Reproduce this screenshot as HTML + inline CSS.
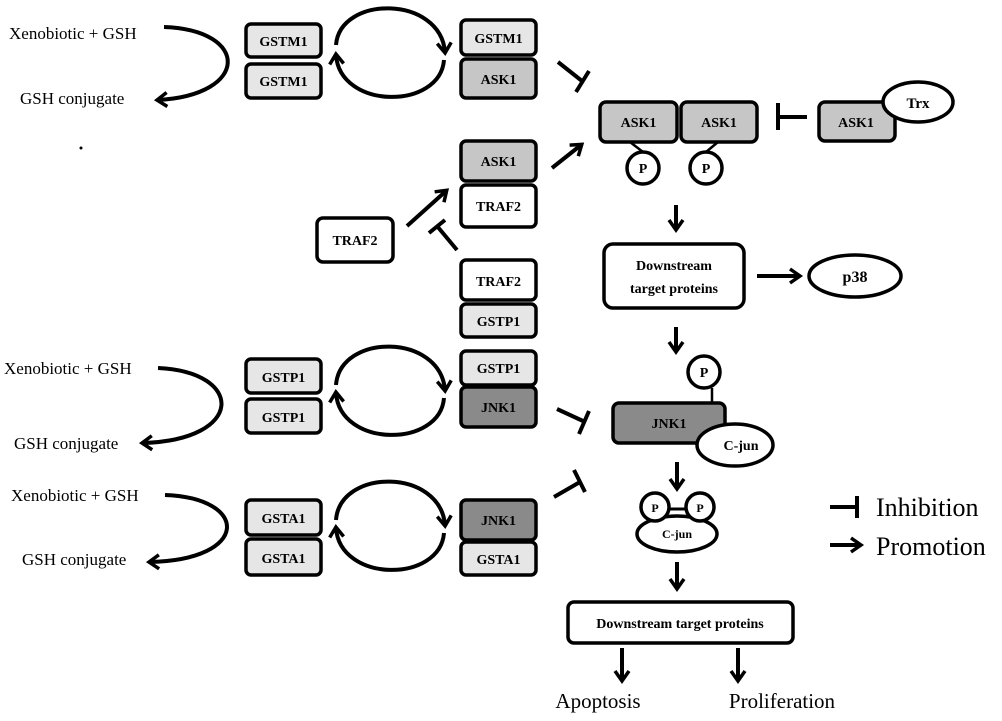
<!DOCTYPE html>
<html><head><meta charset="utf-8"><style>
html,body{margin:0;padding:0;background:#fff;}
svg{display:block;}
text{font-family:"Liberation Serif",serif;fill:#000;}
.b{stroke:#000;stroke-width:3.5;}
.l{fill:#e6e6e6}.g{fill:#c6c6c6}.d{fill:#8a8a8a}.w{fill:#fff}
.ln{stroke:#000;stroke-width:4;fill:none;}
.lab{font-size:14px;text-anchor:middle;font-weight:bold;}
.big{font-size:17px;}
</style></head><body>
<svg width="1002" height="721" viewBox="0 0 1002 721" xmlns="http://www.w3.org/2000/svg">
<defs>
<marker id="a" markerWidth="16" markerHeight="18" refX="11" refY="9" orient="auto" markerUnits="userSpaceOnUse">
<polyline points="2,2 12,9 2,16" fill="none" stroke="#000" stroke-width="3.5"/>
</marker>
</defs>

<!-- Row 1 -->
<text x="9" y="39" class="big">Xenobiotic + GSH</text>
<text x="20" y="104" class="big">GSH conjugate</text>
<path class="ln" d="M164,27 C250,30 250,95 158,100" marker-end="url(#a)"/>
<rect x="246" y="24" width="75" height="33" rx="5" class="b l"/><text x="283.5" y="46" class="lab">GSTM1</text>
<rect x="246" y="64" width="75" height="34" rx="5" class="b l"/><text x="283.5" y="86" class="lab">GSTM1</text>
<path class="ln" d="M336,45 C340,-5 440,-5 445,52" marker-end="url(#a)"/>
<path class="ln" d="M444,60 C440,110 340,110 336,55" marker-end="url(#a)"/>
<rect x="461" y="20" width="75" height="35" rx="5" class="b l"/><text x="498.5" y="43" class="lab">GSTM1</text>
<rect x="461" y="59" width="75" height="39" rx="5" class="b g"/><text x="498.5" y="84" class="lab">ASK1</text>
<line class="ln" x1="558" y1="62" x2="582" y2="81"/><line class="ln" x1="576" y1="92" x2="589" y2="71"/>
<circle cx="81" cy="148" r="1.5" fill="#000"/>

<!-- TRAF2 region -->
<rect x="461" y="141" width="75" height="40" rx="5" class="b g"/><text x="498.5" y="166" class="lab">ASK1</text>
<rect x="461" y="185" width="75" height="42" rx="5" class="b w"/><text x="498.5" y="211" class="lab">TRAF2</text>
<rect x="317" y="218" width="76" height="44" rx="6" class="b w"/><text x="355" y="245" class="lab">TRAF2</text>
<line class="ln" x1="407" y1="226" x2="446" y2="191" marker-end="url(#a)"/>
<line class="ln" x1="457" y1="250" x2="437" y2="226"/><line class="ln" x1="429" y1="233" x2="445" y2="220"/>
<rect x="461" y="260" width="75" height="40" rx="5" class="b w"/><text x="498.5" y="286" class="lab">TRAF2</text>
<rect x="461" y="304" width="75" height="33" rx="5" class="b l"/><text x="498.5" y="326" class="lab">GSTP1</text>
<line class="ln" x1="552" y1="168" x2="581" y2="145" marker-end="url(#a)"/>

<!-- ASK1 dimer -->
<line x1="630" y1="142" x2="643" y2="152" stroke="#000" stroke-width="2.5"/>
<line x1="718" y1="142" x2="706" y2="152" stroke="#000" stroke-width="2.5"/>
<rect x="600" y="102" width="77" height="40" rx="6" class="b g"/><text x="638.5" y="127" class="lab">ASK1</text>
<rect x="681" y="102" width="76" height="40" rx="6" class="b g"/><text x="719" y="127" class="lab">ASK1</text>
<circle cx="643" cy="168" r="16" class="b w"/><text x="643" y="173" class="lab" font-weight="normal">P</text>
<circle cx="706" cy="168" r="16" class="b w"/><text x="706" y="173" class="lab" font-weight="normal">P</text>
<line class="ln" x1="778" y1="103" x2="778" y2="130"/><line class="ln" x1="778" y1="117" x2="807" y2="117"/>
<rect x="819" y="102" width="76" height="39" rx="6" class="b g"/><text x="856" y="127" class="lab">ASK1</text>
<ellipse cx="918" cy="102" rx="35" ry="20" class="b w"/><text x="918" y="108" class="lab" font-weight="normal" style="font-size:15px">Trx</text>

<line class="ln" x1="676" y1="205" x2="676" y2="229" marker-end="url(#a)"/>
<rect x="604" y="244" width="140" height="64" rx="9" class="b w"/>
<text x="674" y="270" class="lab">Downstream</text><text x="674" y="293" class="lab">target proteins</text>
<line class="ln" x1="757" y1="276" x2="799" y2="276" marker-end="url(#a)"/>
<ellipse cx="855" cy="276" rx="46" ry="21" class="b w"/><text x="855" y="282" class="lab" style="font-size:16px">p38</text>

<line class="ln" x1="676" y1="327" x2="676" y2="351" marker-end="url(#a)"/>
<circle cx="704" cy="372" r="16" class="b w"/><text x="704" y="377" class="lab" font-weight="normal">P</text>
<line x1="712" y1="388" x2="712" y2="404" stroke="#000" stroke-width="2.5"/>
<rect x="613" y="403" width="112" height="40" rx="6" class="b d"/><text x="669" y="428" class="lab">JNK1</text>
<ellipse cx="735" cy="445" rx="38" ry="21" class="b w"/><text x="741" y="450" class="lab" font-weight="normal">C-jun</text>

<!-- Row 2 -->
<text x="4" y="374" class="big">Xenobiotic + GSH</text>
<text x="14" y="449" class="big">GSH conjugate</text>
<path class="ln" d="M158,368 C245,372 245,440 143,443" marker-end="url(#a)"/>
<rect x="246" y="359" width="75" height="34" rx="5" class="b l"/><text x="283.5" y="382" class="lab">GSTP1</text>
<rect x="246" y="399" width="75" height="34" rx="5" class="b l"/><text x="283.5" y="422" class="lab">GSTP1</text>
<path class="ln" d="M336,385 C340,333 440,333 445,390" marker-end="url(#a)"/>
<path class="ln" d="M444,398 C440,448 340,448 336,393" marker-end="url(#a)"/>
<rect x="461" y="351" width="75" height="34" rx="5" class="b l"/><text x="498.5" y="373" class="lab">GSTP1</text>
<rect x="461" y="387" width="75" height="40" rx="5" class="b d"/><text x="498.5" y="412" class="lab">JNK1</text>
<line class="ln" x1="557" y1="409" x2="583" y2="421"/><line class="ln" x1="579" y1="434" x2="589" y2="411"/>

<!-- Row 3 -->
<text x="11" y="501" class="big">Xenobiotic + GSH</text>
<text x="22" y="565" class="big">GSH conjugate</text>
<path class="ln" d="M165,495 C250,498 250,560 150,562" marker-end="url(#a)"/>
<rect x="246" y="500" width="75" height="35" rx="5" class="b l"/><text x="283.5" y="523" class="lab">GSTA1</text>
<rect x="246" y="539" width="75" height="36" rx="5" class="b l"/><text x="283.5" y="563" class="lab">GSTA1</text>
<path class="ln" d="M336,520 C340,468 440,468 445,525" marker-end="url(#a)"/>
<path class="ln" d="M444,533 C440,583 340,583 336,528" marker-end="url(#a)"/>
<rect x="461" y="500" width="75" height="40" rx="5" class="b d"/><text x="498.5" y="525" class="lab">JNK1</text>
<rect x="461" y="542" width="75" height="33" rx="5" class="b l"/><text x="498.5" y="564" class="lab">GSTA1</text>
<line class="ln" x1="554" y1="497" x2="580" y2="482"/><line class="ln" x1="574" y1="470" x2="585" y2="492"/>

<!-- C-jun dimer -->
<line class="ln" x1="677" y1="462" x2="677" y2="488" marker-end="url(#a)"/>
<ellipse cx="677" cy="534" rx="40" ry="18" class="b w"/><text x="677" y="538" class="lab" font-weight="normal" style="font-size:12px">C-jun</text>
<line x1="668" y1="509" x2="688" y2="509" stroke="#000" stroke-width="3"/>
<circle cx="655" cy="507" r="14" class="b w"/><text x="655" y="512" class="lab" font-weight="normal" style="font-size:12px">P</text>
<circle cx="700" cy="507" r="14" class="b w"/><text x="700" y="512" class="lab" font-weight="normal" style="font-size:12px">P</text>
<line class="ln" x1="677" y1="562" x2="677" y2="588" marker-end="url(#a)"/>
<rect x="568" y="602" width="225" height="41" rx="6" class="b w"/><text x="680" y="628" class="lab">Downstream target proteins</text>
<line class="ln" x1="622" y1="648" x2="622" y2="680" marker-end="url(#a)"/>
<line class="ln" x1="738" y1="648" x2="738" y2="680" marker-end="url(#a)"/>
<text x="598" y="708" font-size="21" text-anchor="middle">Apoptosis</text>
<text x="782" y="708" font-size="21" text-anchor="middle">Proliferation</text>

<!-- Legend -->
<line class="ln" x1="830" y1="507" x2="857" y2="507"/><line class="ln" x1="857" y1="496" x2="857" y2="518"/>
<text x="876" y="516" font-size="26">Inhibition</text>
<line class="ln" x1="830" y1="545" x2="860" y2="545" marker-end="url(#a)"/>
<text x="876" y="555" font-size="26">Promotion</text>
</svg>
</body></html>
